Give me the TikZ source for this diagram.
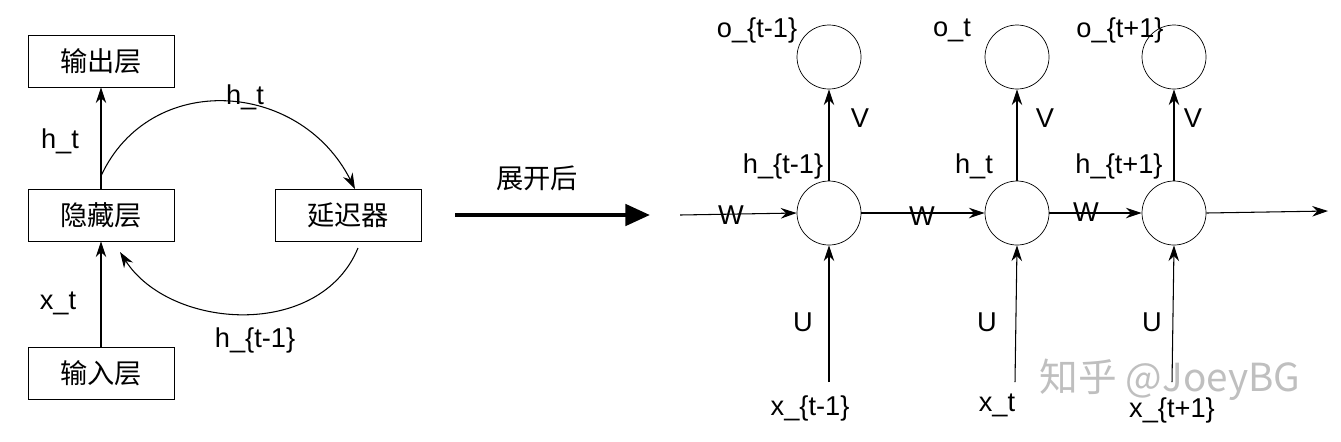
\documentclass[tikz,border=0pt]{standalone}
\usepackage{fontspec}
\setmainfont{Liberation Sans}
\newfontfamily\cjk{Noto Sans CJK SC}
\usetikzlibrary{arrows.meta}
\begin{document}
\begin{tikzpicture}[x=0.02cm,y=-0.02cm,
  lbl/.style={font=\fontsize{15.5}{18}\selectfont,inner sep=0pt},
  boxn/.style={draw,minimum width=146*0.02cm,minimum height=52*0.02cm,font=\cjk\fontsize{15.5}{18}\selectfont},
  cir/.style={draw,circle,minimum size=64*0.02cm,inner sep=0pt},
  arr/.style={-{Stealth[length=9pt,width=6pt]},line width=0.6pt}]
\useasboundingbox (0,0) rectangle (1341,441);
\node[boxn] (out) at (101,61) {输出层};
\node[boxn] (hid) at (101,215) {隐藏层};
\node[boxn] (dly) at (348,215) {延迟器};
\node[boxn] (inp) at (101,373) {输入层};
\draw[arr] (hid.north) -- (out.south);
\node[lbl] at (60,141) {h\_t};
\draw[arr] (101,176) .. controls (150,70) and (300,80) .. (355,189);
\node[lbl] at (245,97) {h\_t};
\draw[arr] (358,248) .. controls (320,340) and (170,330) .. (120,252);
\node[lbl] at (255,340) {h\_\{t-1\}};
\draw[arr] (inp.north) -- (hid.south);
\node[lbl] at (58,303) {x\_t};
\node[lbl,font=\cjk\fontsize{15.5}{18}\selectfont] at (537,178) {展开后};
\draw[-{Triangle[length=14pt,width=12pt]},line width=2.5pt] (455,215) -- (650,215);
\foreach \n/\x in {a/829,b/1017,c/1174}{
  \node[cir] (h\n) at (\x,213) {};
  \node[cir] (o\n) at (\x,57) {};
  \draw[arr] (h\n.north) -- (o\n.south);
}
\coordinate (w0) at (680,215);
\coordinate (wend) at (1328,211);
\coordinate (xa) at (829,382);
\coordinate (xb) at (1015,382);
\coordinate (xc) at (1172,382);
\draw[arr] (w0) -- (ha.west);
\draw[arr] (ha.east) -- (hb.west);
\draw[arr] (hb.east) -- (hc.west);
\draw[arr] (hc.east) -- (wend);
\draw[arr] (xa) -- (ha.south);
\draw[arr] (xb) -- (hb.south);
\draw[arr] (xc) -- (hc.south);
\node[lbl] at (731,215) {W};
\node[lbl] at (922,216) {W};
\node[lbl] at (1086,212) {W};
\node[lbl] at (860,118) {V};
\node[lbl] at (1045,118) {V};
\node[lbl] at (1193,118) {V};
\node[lbl] at (803,322) {U};
\node[lbl] at (987,322) {U};
\node[lbl] at (1152,322) {U};
\node[lbl] at (757,30) {o\_\{t-1\}};
\node[lbl] at (952,30) {o\_t};
\node[lbl] at (1120,30) {o\_\{t+1\}};
\node[lbl] at (783,166) {h\_\{t-1\}};
\node[lbl] at (974,166) {h\_t};
\node[lbl] at (1119,166) {h\_\{t+1\}};
\node[lbl] at (810,408) {x\_\{t-1\}};
\node[lbl] at (997,405) {x\_t};
\node[lbl] at (1172,410) {x\_\{t+1\}};
\node[inner sep=0pt,text=black!25,font=\cjk\fontsize{22}{26}\selectfont] at (1170,380) {知乎 @JoeyBG};
\end{tikzpicture}
\end{document}
